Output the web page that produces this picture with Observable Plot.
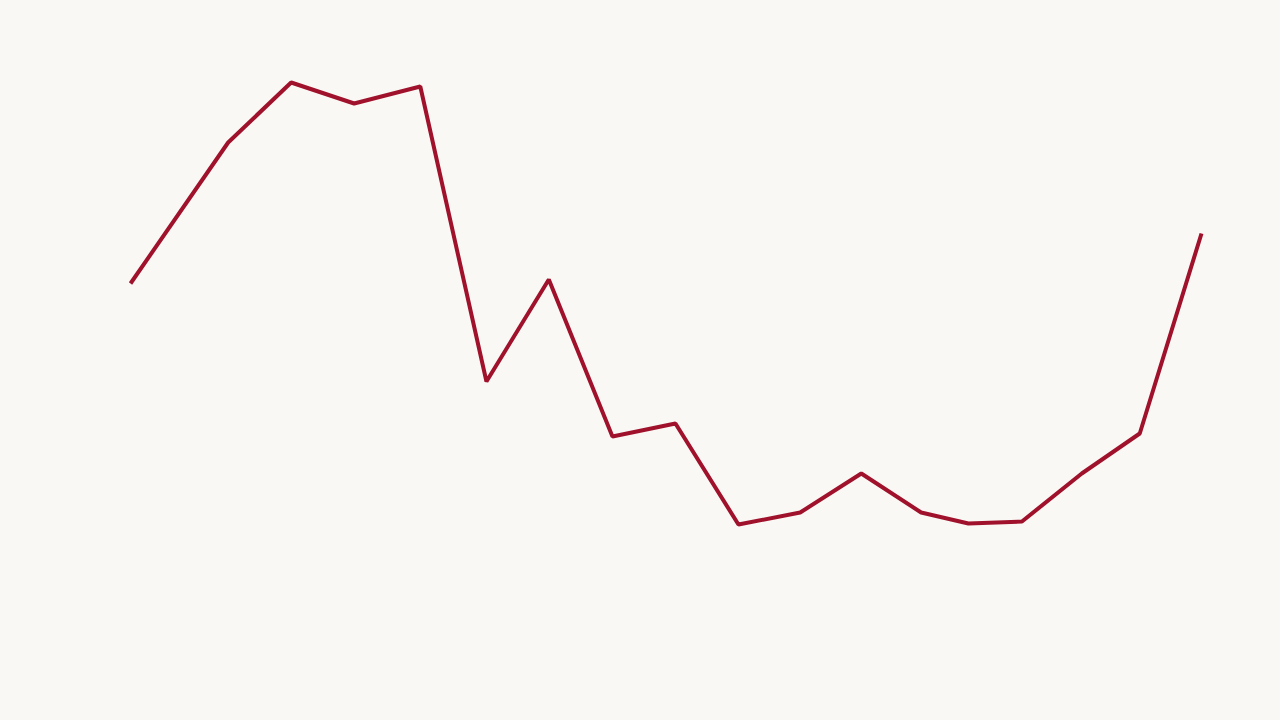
<!DOCTYPE html>
<html>
<head>
<meta charset="utf-8">
<script src="https://cdn.jsdelivr.net/npm/d3@7"></script>
<script src="https://cdn.jsdelivr.net/npm/@observablehq/plot@0.6"></script>
<style>
  html, body { margin: 0; padding: 0; background: #f9f8f4; overflow: hidden; }
  #chart svg { display: block; }
</style>
</head>
<body>
<div id="chart"></div>
<script>
const periods = [0, 1.55, 2.55, 3.55, 4.6, 5.65, 6.64, 7.65, 8.65, 9.65, 10.63, 11.6, 12.55, 13.3, 14.15, 15.1, 16.02, 17];
const values = [43.7, 57.8, 63.8, 61.7, 63.4, 33.9, 44.1, 28.4, 29.7, 19.6, 20.8, 24.7, 20.8, 19.7, 19.9, 24.7, 28.7, 48.7];

const data = periods.map((p, i) => ({period: p, value: values[i]}));

const chart = Plot.plot({
  width: 1280,
  height: 720,
  marginLeft: 130,
  marginRight: 79,
  marginTop: 0,
  marginBottom: 0,
  style: {background: "#f9f8f4"},
  x: {domain: [0, 17], axis: null},
  y: {domain: [0, 72], axis: null},
  marks: [
    Plot.line(data, {x: "period", y: "value", stroke: "#a0122b", strokeWidth: 4, strokeLinejoin: "miter", strokeLinecap: "butt"})
  ]
});
document.getElementById("chart").appendChild(chart);
</script>
</body>
</html>
